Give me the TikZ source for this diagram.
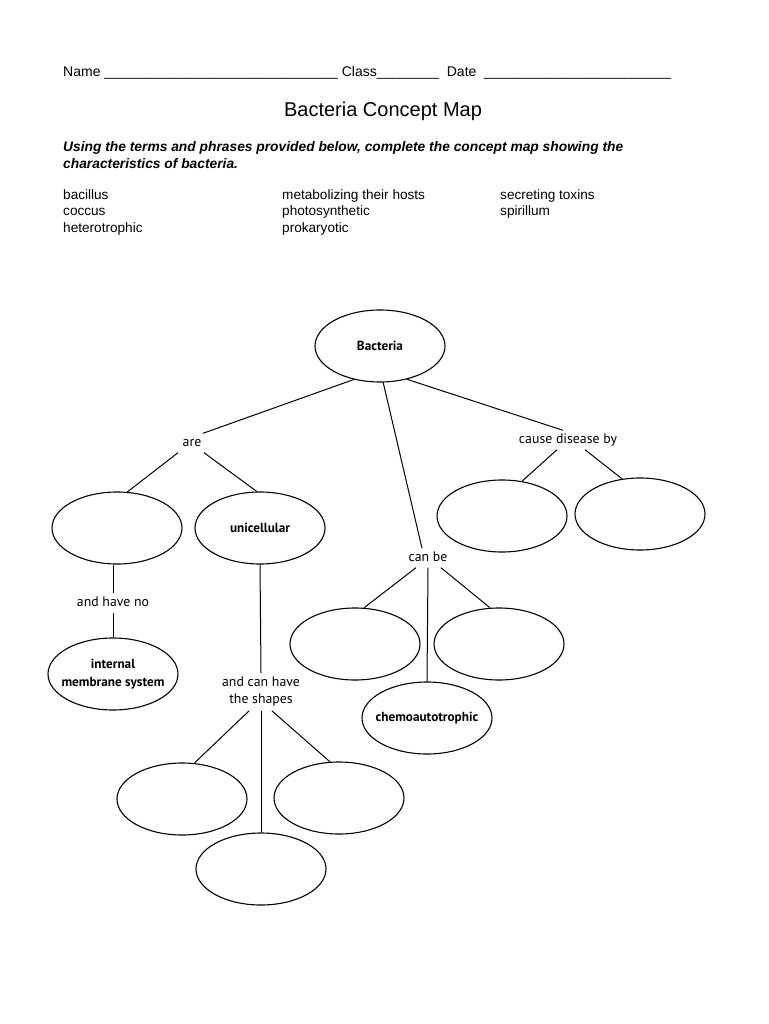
\documentclass[tikz,border=0pt]{standalone}
\usepackage{fontspec}
\setmainfont{Liberation Sans}
\newfontfamily\mapfont{PT Sans}
\usetikzlibrary{shapes.geometric}

\newcommand\blanks[1]{\foreach \k in {1,...,#1}{\_}}

\tikzset{
  oval/.style={draw, ellipse, line width=1.1pt, minimum width=130pt, minimum height=72pt,
    inner xsep=-22pt, inner ysep=0pt, align=center,
    font=\mapfont\bfseries\fontsize{13.2}{18}\selectfont},
  word/.style={inner xsep=1pt, inner ysep=4pt, font=\mapfont\fontsize{13.8}{17}\selectfont},
  link/.style={word, inner ysep=3pt, text height=10pt, text depth=3pt},
  wire/.style={line width=1pt},
  sheet/.style={anchor=base west, inner sep=0pt, font=\fontsize{13.6}{16}\selectfont},
}

\begin{document}
\begin{tikzpicture}[x=1pt, y=-1pt]
\fill[white] (0,0) rectangle (768,1024);
\useasboundingbox (0,0) rectangle (768,1024);

% header
\node[sheet, font=\fontsize{14}{16}\selectfont] (namerow) at (63,77)
  {Name \blanks{30} Class\blanks{8}\ \ Date\ \ \blanks{24}};
\node[anchor=base, inner sep=0pt, font=\fontsize{20}{24}\selectfont] (title) at (383,117) {Bacteria Concept Map};
\node[sheet, font=\bfseries\itshape\fontsize{13.8}{17}\selectfont] (instrA) at (63,152)
  {Using the terms and phrases provided below, complete the concept map showing the};
\node[sheet, font=\bfseries\itshape\fontsize{13.8}{17}\selectfont] (instrB) at (63,169)
  {characteristics of bacteria.};

% terms
\node[sheet] (bacillus) at (63,200) {bacillus};
\node[sheet] (coccus) at (63,216) {coccus};
\node[sheet] (hetero) at (63,233) {heterotrophic};
\node[sheet] (metab) at (282,200) {metabolizing their hosts};
\node[sheet] (photo) at (282,216) {photosynthetic};
\node[sheet] (prok) at (282,233) {prokaryotic};
\node[sheet] (toxins) at (500,200) {secreting toxins};
\node[sheet] (spiril) at (500,216) {spirillum};

% ovals
\node[oval] (bact) at (380,346) {Bacteria};
\node[oval] (blankA) at (117,528) {};
\node[oval] (unicell) at (260,528) {unicellular};
\node[oval] (causeL) at (502,516) {};
\node[oval] (causeR) at (640,514) {};
\node[oval] (internal) at (113,674) {internal\\membrane system};
\node[oval] (canL) at (355,644) {};
\node[oval] (canR) at (499,644) {};
\node[oval] (chemo) at (427,718) {chemoautotrophic};
\node[oval] (shapeL) at (182,799) {};
\node[oval] (shapeR) at (339,798) {};
\node[oval] (shapeC) at (261,869) {};

% linking words
\node[link] (are) at (192,443) {are};
\node[link] (cause) at (568,440) {cause disease by};
\node[link] (canbe) at (428,558) {can be};
\node[link] (haveno) at (113,603) {and have no};
\node[word, align=center] (shapes) at (261,692) {and can have\\the shapes};

% connectors
\draw[wire] (bact.232) -- ([xshift=11]are.north);
\draw[wire] (bact.275) -- ([xshift=-6]canbe.north);
\draw[wire] (bact.-51) -- ([xshift=-5]cause.north);

\draw[wire] ([xshift=-14]are.south) -- (blankA.74);
\draw[wire] ([xshift=12]are.south) -- (unicell.95);

\draw[wire] ([xshift=-11]cause.south) -- (causeL.60);
\draw[wire] ([xshift=17]cause.south) -- (causeR.117);

\draw[wire] (haveno.north |- blankA.south) -- (haveno.north);
\draw[wire] (haveno.south) -- (internal.north);

\draw[wire] (unicell.south) -- (shapes.north);
\draw[wire] ([xshift=-12]shapes.south) -- (shapeL.71);
\draw[wire] (shapes.south) -- (shapeC.north);
\draw[wire] ([xshift=11]shapes.south) -- (shapeR.104);

\draw[wire] ([xshift=-12]canbe.south) -- (canL.76);
\draw[wire] (canbe.south) -- (chemo.north);
\draw[wire] ([xshift=13]canbe.south) -- (canR.104);
\end{tikzpicture}
\end{document}
